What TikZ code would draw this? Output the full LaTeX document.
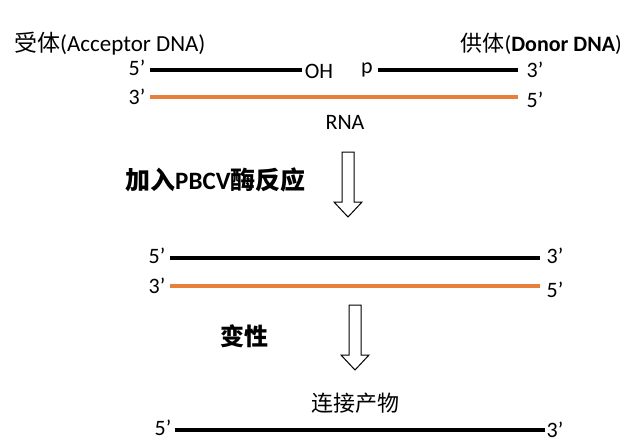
\documentclass[tikz,border=0pt]{standalone}
\usepackage{fontspec}
\setmainfont{Carlito}
\newfontfamily\cjk{Noto Sans CJK SC}
\definecolor{rnaor}{RGB}{230,128,58}
\begin{document}
\begin{tikzpicture}[x=1pt,y=-1pt,
  dna/.style={line width=4.5pt,black},
  rna/.style={line width=4.5pt,rnaor},
  lbl/.style={font=\fontsize{22}{24}\selectfont,inner sep=0pt},
  hollow/.style={draw=black,line width=1pt,fill=white}]
\useasboundingbox (0,0) rectangle (637,447);
\node[lbl,anchor=west,font=\fontsize{23}{25}\selectfont] (acc) at (14,44) {{\cjk 受体}(Acceptor DNA)};
\node[lbl,anchor=east] (don) at (622,44) {{\cjk 供体}(\textbf{Donor DNA})};
% top
\coordinate (a1) at (150,70); \coordinate (a2) at (302,70);
\coordinate (b1) at (378,70); \coordinate (b2) at (518,70);
\draw[dna] (a1) -- (a2); \draw[dna] (b1) -- (b2);
\node[lbl] (oh) at (319,71) {OH};
\node[lbl] (p) at (367,70) {p};
\node[lbl] (t5a) at (137,68) {5’};
\node[lbl] (t3a) at (535,70) {3’};
\coordinate (r1) at (150,97); \coordinate (r2) at (518,97);
\draw[rna] (r1) -- (r2);
\node[lbl] (t3b) at (137,97) {3’};
\node[lbl] (t5b) at (535,100) {5’};
\node[lbl] (rnat) at (345,122) {RNA};
% arrow 1
\draw[hollow] (342,152) -- (354,152) -- (354,202) -- (362,202) -- (348,217) -- (334,202) -- (342,202) -- cycle;
\node[lbl,anchor=west,font=\fontsize{25}{27}\selectfont\bfseries] (pb) at (125,180) {{\cjk\bfseries 加入}PBCV{\cjk\bfseries 酶反应}};
% middle
\coordinate (m1) at (170,258); \coordinate (m2) at (540,258);
\draw[dna] (m1) -- (m2);
\node[lbl] (t5c) at (157,256) {5’};
\node[lbl] (t3c) at (555,256) {3’};
\coordinate (n1) at (170,286); \coordinate (n2) at (540,286);
\draw[rna] (n1) -- (n2);
\node[lbl] (t3d) at (157,286) {3’};
\node[lbl] (t5d) at (555,290) {5’};
% arrow 2
\draw[hollow] (349,305) -- (361,305) -- (361,355) -- (369,355) -- (355,370) -- (341,355) -- (349,355) -- cycle;
\node[lbl,font=\fontsize{24}{26}\selectfont] (bx) at (244,336) {\cjk\bfseries 变性};
% bottom
\node[lbl] (prod) at (355,403) {\cjk 连接产物};
\coordinate (p1) at (175,430); \coordinate (p2) at (545,430);
\draw[dna] (p1) -- (p2);
\node[lbl] (t5e) at (163,428) {5’};
\node[lbl] (t3e) at (555,430) {3’};
\end{tikzpicture}
\end{document}
